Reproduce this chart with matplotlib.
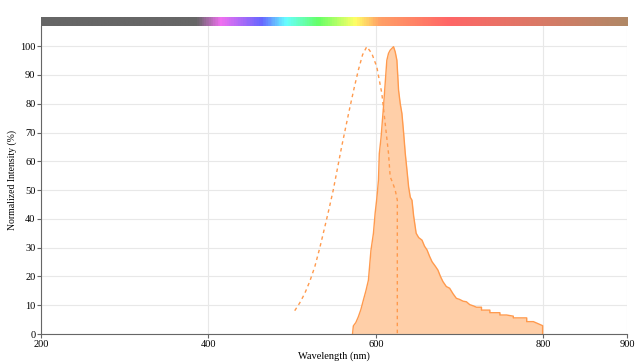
import matplotlib
matplotlib.use("Agg")
import matplotlib.pyplot as plt
import numpy as np
from matplotlib.colors import LinearSegmentedColormap

# excitation (dashed) spectrum, nm / %
ex_wl = [503, 509, 515, 521, 527, 533, 539, 544, 549, 554, 559, 564, 569, 574,
         579, 584, 589, 595, 601, 607, 611, 615, 617, 620, 623, 625.5, 625.5]
ex_val = [8.1, 10.8, 14.1, 18.3, 23.4, 30, 37.3, 43.5, 50, 57.5, 65, 72, 78.9, 85.5,
          91.7, 97, 99.8, 97.5, 92.8, 83.6, 73.2, 62.7, 54.6, 52.5, 50, 46.5, 0]

# emission (filled) spectrum
em_wl = [572, 573, 576, 579, 582, 585, 588, 591, 594, 597, 599, 601, 603, 604,
         606, 609, 611, 613, 615, 617, 619, 621, 623, 625, 627, 629, 631, 633,
         635, 637, 639, 641, 643, 645, 648, 651, 655, 658, 661, 664, 667, 671,
         674, 677, 680, 684, 688, 692, 696, 700, 704, 708, 712, 716, 720, 726,
         726, 736, 736, 748, 748, 756, 764, 764, 772, 780, 780, 788, 799, 799]
em_val = [0, 2.8, 4, 6, 8.5, 11.8, 15, 18.7, 29, 35, 41.9, 47, 53.5, 62.7,
          68, 78.9, 87, 95.1, 97.5, 98.6, 99.2, 99.8, 98, 95.1, 84.7, 80, 76.6, 70,
          62.7, 57, 51.1, 47.5, 46.5, 41, 35, 33.5, 32.6, 30.5, 29.2, 27, 25.1, 23.5,
          22.2, 20, 18.2, 16.5, 15.9, 14, 12.4, 12, 11.4, 11.2, 10.2, 9.8, 9.3, 9.3,
          8.3, 8.3, 7.4, 7.4, 6.6, 6.6, 6.2, 5.6, 5.6, 5.6, 4.3, 4.3, 2.9, 0]

x_ticks = [200, 400, 600, 800, 900]
y_ticks = list(range(0, 101, 10))

# spectrum bar across the top
spec_pos = [200, 385, 414, 463, 492, 531, 575, 604, 687, 800, 900]
spec_col = ["#666666", "#666666", "#f070f0", "#6666ff", "#66ffff", "#66ff66",
            "#ffff66", "#ffa066", "#ff6666", "#d87a66", "#b08866"]

plt.rcParams['font.family'] = ['Liberation Serif', 'DejaVu Serif']

fig = plt.figure(figsize=(6.4, 3.64), dpi=100)
ax = fig.add_axes([0.064, 0.0824, 0.916, 0.8462])
cax = fig.add_axes([0.064, 0.9286, 0.916, 0.0247])

line_c = "#ff9a4d"
fill_c = "#ffcfa8"

ax.fill_between(em_wl, em_val, 0, color=fill_c, lw=0)
ax.plot(em_wl, em_val, color=line_c, lw=1)
ax.plot(ex_wl, ex_val, color=line_c, lw=1, ls=(0, (2.5, 2.5)))

ax.set_xlim(200, 900)
ax.set_ylim(0, 107)
ax.set_xticks(x_ticks)
ax.set_yticks(y_ticks)
ax.grid(True, color="#e8e8e8", lw=0.8)
ax.set_axisbelow(True)
for s in ["top", "right"]:
    ax.spines[s].set_visible(False)
for s in ["left", "bottom"]:
    ax.spines[s].set_color("#666666")
ax.tick_params(labelsize=7.5, length=3, color="#666666", pad=1)
ax.set_xlabel("Wavelength (nm)", fontsize=7.5, labelpad=2)
ax.set_ylabel("Normalized Intensity (%)", fontsize=7)
ax.yaxis.set_label_coords(-0.041, 0.5)

pos = [(p - 200) / 700 for p in spec_pos]
cmap = LinearSegmentedColormap.from_list("spec", list(zip(pos, spec_col)))
grad = np.linspace(0, 1, 700).reshape(1, -1)
cax.imshow(grad, aspect="auto", cmap=cmap, extent=[200, 900, 0, 1])
cax.set_xlim(200, 900)
cax.axis("off")

fig.savefig("out.png", dpi=100)
